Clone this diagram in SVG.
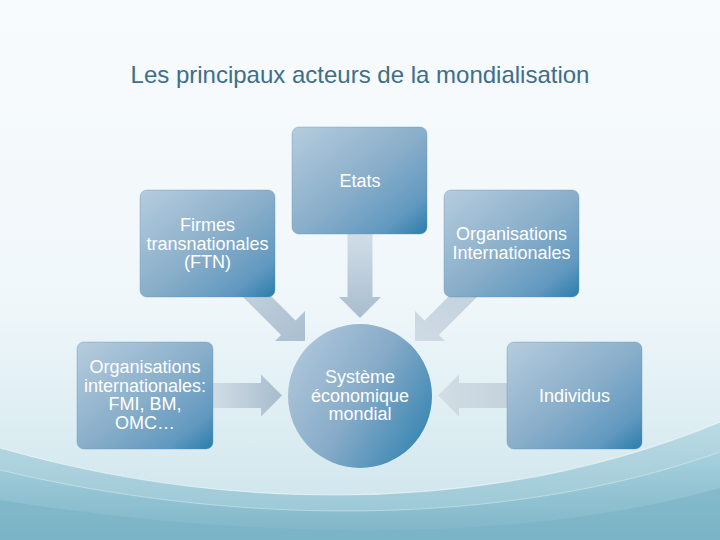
<svg xmlns="http://www.w3.org/2000/svg" width="720" height="540" viewBox="0 0 720 540">
<defs>
<linearGradient id="bg" x1="0" y1="0" x2="0" y2="1">
<stop offset="0" stop-color="#f8fbfd"/>
<stop offset="0.55" stop-color="#f0f7fa"/>
<stop offset="0.8" stop-color="#dcedf2"/>
<stop offset="1" stop-color="#c9e3ea"/>
</linearGradient>
<linearGradient id="teal" x1="0" y1="0" x2="0" y2="1">
<stop offset="0" stop-color="#a2cedb"/>
<stop offset="1" stop-color="#70adc1"/>
</linearGradient>
<linearGradient id="box" x1="0" y1="0" x2="1" y2="1">
<stop offset="0" stop-color="#b6ccde"/>
<stop offset="0.5" stop-color="#8aafca"/>
<stop offset="0.82" stop-color="#6299c0"/>
<stop offset="1" stop-color="#2a7cab"/>
</linearGradient>
<linearGradient id="circ" x1="0" y1="0.2" x2="1" y2="0.8">
<stop offset="0" stop-color="#b0c7db"/>
<stop offset="0.5" stop-color="#86abc8"/>
<stop offset="1" stop-color="#3584b1"/>
</linearGradient>
<linearGradient id="aDown" x1="0" y1="0" x2="0" y2="1">
<stop offset="0" stop-color="#d3dfe8"/>
<stop offset="1" stop-color="#a8bdcf"/>
</linearGradient>
<linearGradient id="aDR" x1="0" y1="0" x2="1" y2="1">
<stop offset="0" stop-color="#c3d3df"/>
<stop offset="1" stop-color="#a9becf"/>
</linearGradient>
<linearGradient id="aDL" x1="1" y1="0" x2="0" y2="1">
<stop offset="0" stop-color="#c1d1dd"/>
<stop offset="1" stop-color="#cfdbe4"/>
</linearGradient>
<linearGradient id="aR" x1="0" y1="0" x2="1" y2="0">
<stop offset="0" stop-color="#d6e1e9"/>
<stop offset="1" stop-color="#a7bccd"/>
</linearGradient>
<linearGradient id="aL" x1="1" y1="0" x2="0" y2="0">
<stop offset="0" stop-color="#c4d1dc"/>
<stop offset="1" stop-color="#d2dde5"/>
</linearGradient>
</defs>
<style>
.box{fill:url(#box);stroke:#5b90b3;stroke-width:0.6;stroke-opacity:0.6}
.lbl{font-family:"Liberation Sans",Arial,sans-serif;font-size:18px;fill:#ffffff;text-anchor:middle}
.title{font-family:"Liberation Sans",Arial,sans-serif;font-size:24px;fill:#3d6f8a;text-anchor:middle}
</style>
<g id="background">
<rect x="0" y="0" width="720" height="540" fill="url(#bg)"/>
<path d="M0,448 C200,505 470,525 720,422 L720,540 L0,540 Z" fill="url(#teal)" opacity="0.6"/>
<path d="M0,470 C230,525 500,530 720,452 L720,540 L0,540 Z" fill="url(#teal)" opacity="0.65"/>
<path d="M0,500 C250,540 520,545 720,488 L720,540 L0,540 Z" fill="#78b2c5" opacity="0.55"/>
<path d="M0,448 C200,505 470,525 720,422" fill="none" stroke="#ffffff" stroke-opacity="0.5" stroke-width="1.2"/>
<path d="M0,470 C230,525 500,530 720,452" fill="none" stroke="#ffffff" stroke-opacity="0.35" stroke-width="1"/>
</g>
<text class="title" x="360" y="83">Les principaux acteurs de la mondialisation</text>
<g id="connectors">
<polygon points="347.5,230 372.5,230 372.5,297 381,297 360,318 339,297 347.5,297" fill="url(#aDown)"/>
<polygon points="236,290 265,290 295.5,320.5 305,311 305,341 275,341 281,335" fill="url(#aDR)"/>
<polygon points="484,290 455,290 424.5,320.5 415,311 415,341 445,341 439,335" fill="url(#aDL)"/>
<polygon points="205,383 261,383 261,374.5 282,395.5 261,416.5 261,408 205,408" fill="url(#aR)"/>
<polygon points="515,383 459,383 459,374.5 438,395.5 459,416.5 459,408 515,408" fill="url(#aL)"/>
</g>
<g id="node-etats">
<rect class="box" x="292" y="127" width="135" height="107" rx="7"/>
<text class="lbl" x="360" y="187">Etats</text>
</g>
<g id="node-ftn">
<rect class="box" x="140" y="190" width="135" height="107" rx="7"/>
<text class="lbl" x="207.5" y="231">Firmes</text>
<text class="lbl" x="207.5" y="249.5">transnationales</text>
<text class="lbl" x="207.5" y="268">(FTN)</text>
</g>
<g id="node-orgint">
<rect class="box" x="444" y="190" width="135" height="107" rx="7"/>
<text class="lbl" x="511.5" y="240">Organisations</text>
<text class="lbl" x="511.5" y="259">Internationales</text>
</g>
<g id="node-fmi">
<rect class="box" x="77" y="342" width="136" height="107" rx="7"/>
<text class="lbl" x="145" y="373">Organisations</text>
<text class="lbl" x="145" y="391.5">internationales:</text>
<text class="lbl" x="145" y="410">FMI, BM,</text>
<text class="lbl" x="145" y="428.5">OMC…</text>
</g>
<g id="node-individus">
<rect class="box" x="507" y="342" width="135" height="107" rx="7"/>
<text class="lbl" x="574.5" y="402">Individus</text>
</g>
<g id="node-systeme">
<circle cx="360" cy="396" r="72" fill="url(#circ)"/>
<text class="lbl" x="360" y="383">Système</text>
<text class="lbl" x="360" y="401.5">économique</text>
<text class="lbl" x="360" y="420">mondial</text>
</g>
</svg>
